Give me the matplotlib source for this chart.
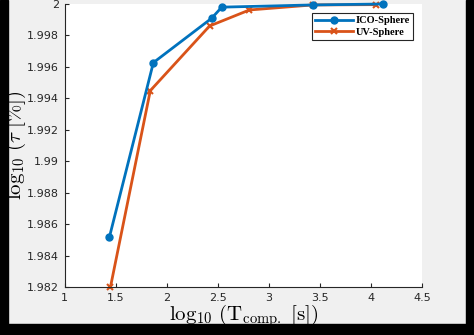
import numpy as np
import matplotlib.pyplot as plt
from matplotlib.patches import Rectangle

# data
ico_x = [1.44, 1.87, 2.44, 2.54, 3.43, 4.12]
ico_y = [1.98518, 1.99627, 1.99909, 1.99980, 1.99994, 2.00000]
uv_x = [1.45, 1.84, 2.42, 2.81, 3.43, 4.05]
uv_y = [1.98200, 1.99449, 1.99860, 1.99962, 1.99994, 1.99996]
x_ticks = [1, 1.5, 2, 2.5, 3, 3.5, 4, 4.5]
y_ticks = [1.982, 1.984, 1.986, 1.988, 1.99, 1.992, 1.994, 1.996, 1.998, 2]
y_labels = ['1.982', '1.984', '1.986', '1.988', '1.99', '1.992', '1.994', '1.996', '1.998', '2']

plt.rcParams['mathtext.fontset'] = 'cm'

fig = plt.figure(figsize=(4.74, 3.35), dpi=100, facecolor='#f0f0f0')
# black frame around the screenshot
fig.patches.append(Rectangle((0, 0), 8 / 474, 1, transform=fig.transFigure, color='black', zorder=-1))
fig.patches.append(Rectangle((466 / 474, 0), 8 / 474, 1, transform=fig.transFigure, color='black', zorder=-1))
fig.patches.append(Rectangle((0, 0), 1, 11 / 335, transform=fig.transFigure, color='black', zorder=-1))

ax = fig.add_axes([64.5 / 474, 1 - 287 / 335, (422 - 64.5) / 474, (287 - 4) / 335])
ax.plot(ico_x, ico_y, color='#0072BD', linewidth=2, marker='o', markersize=5, label='ICO-Sphere', clip_on=False, zorder=3)
ax.plot(uv_x, uv_y, color='#D95319', linewidth=2, marker='x', markersize=5, markeredgewidth=1.5, label='UV-Sphere', clip_on=False)

ax.set_xlim(1, 4.5)
ax.set_ylim(1.982, 2)
ax.set_xticks(x_ticks)
ax.set_xticklabels([('%g' % t) for t in x_ticks])
ax.set_yticks(y_ticks)
ax.set_yticklabels(y_labels)
ax.tick_params(direction='in', length=3, labelsize=8, colors='#262626', pad=4)

ax.spines['right'].set_visible(False)
ax.spines['top'].set_visible(False)
ax.spines['left'].set_color('#262626')
ax.spines['bottom'].set_color('#262626')

ax.set_xlabel(r'$\log_{10}\,(\mathrm{T}_{\mathrm{comp.}}\ [\mathrm{s}])$', fontsize=15, labelpad=0)
ax.set_ylabel(r'$\log_{10}\,(\tau\ [\%])$', fontsize=15)
ax.yaxis.set_label_coords(-0.102, 0.5)

leg = ax.legend(loc='upper right', bbox_to_anchor=(0.975, 0.968), fancybox=False, framealpha=1,
                edgecolor='#262626', prop={'family': 'Liberation Serif', 'weight': 'bold', 'size': 7.5},
                handlelength=3.6, handletextpad=0.3, borderpad=0.3, borderaxespad=0, labelspacing=0.2)
leg.get_frame().set_linewidth(0.8)

plt.savefig('out.png', dpi=100, facecolor=fig.get_facecolor())
